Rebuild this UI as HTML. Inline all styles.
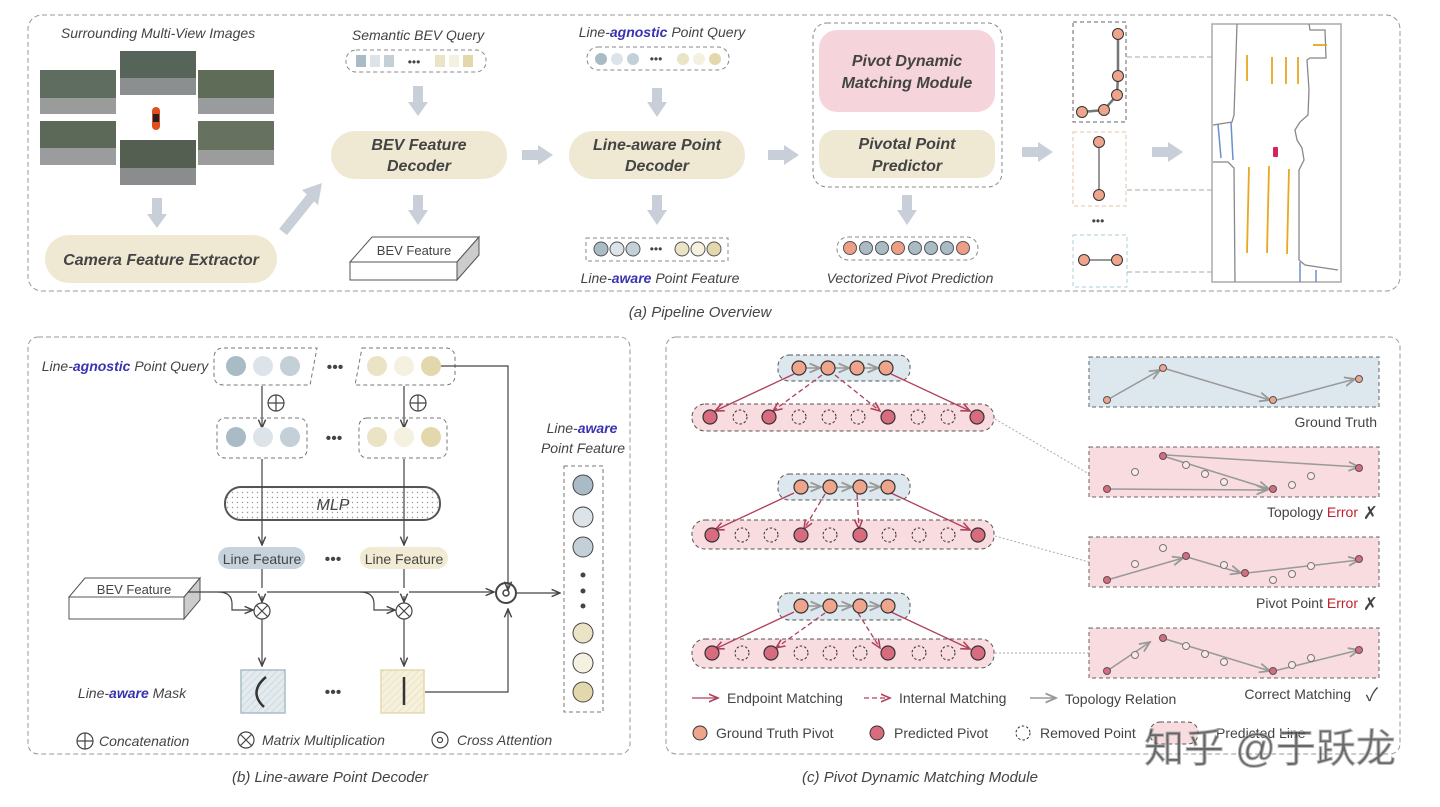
<!DOCTYPE html>
<html><head><meta charset="utf-8"><style>
html,body{margin:0;padding:0;background:#fff;width:1440px;height:807px;overflow:hidden}
svg text{font-family:"Liberation Sans","Noto Sans CJK SC",sans-serif;font-style:italic;fill:#444}
</style></head><body>
<svg width="1440" height="807" viewBox="0 0 1440 807" xmlns="http://www.w3.org/2000/svg">
<defs>
<marker id="ah" markerWidth="8" markerHeight="8" refX="7" refY="4" orient="auto"><path d="M0,1 L7,4 L0,7" fill="none" stroke="#444" stroke-width="1.2"/></marker>
<marker id="ar" markerWidth="8" markerHeight="8" refX="7" refY="4" orient="auto"><path d="M0,1 L7,4 L0,7" fill="none" stroke="#b0405a" stroke-width="1.2"/></marker>
<marker id="ag" markerWidth="8" markerHeight="8" refX="7" refY="4" orient="auto"><path d="M0,1 L7,4 L0,7" fill="none" stroke="#999" stroke-width="1.2"/></marker>
<pattern id="dots" width="5" height="5" patternUnits="userSpaceOnUse"><rect width="5" height="5" fill="#fff"/><circle cx="2.5" cy="2.5" r="0.7" fill="#999"/></pattern>
<pattern id="hatchB" width="5" height="5" patternUnits="userSpaceOnUse" patternTransform="rotate(45)"><rect width="5" height="5" fill="#e4ebef"/><line x1="0" y1="0" x2="0" y2="5" stroke="#c8d3da" stroke-width="1.5"/></pattern>
<pattern id="hatchY" width="5" height="5" patternUnits="userSpaceOnUse" patternTransform="rotate(45)"><rect width="5" height="5" fill="#f6f1dd"/><line x1="0" y1="0" x2="0" y2="5" stroke="#e6dfc2" stroke-width="1.5"/></pattern>
</defs>

<!-- ===== (a) Pipeline ===== -->
<rect x="28" y="15" width="1372" height="276" rx="14" fill="none" stroke="#999" stroke-dasharray="5,3"/>
<text x="158" y="38" font-size="14" text-anchor="middle">Surrounding Multi-View Images</text>
<g>
<rect x="40" y="70" width="76" height="44" fill="#5f6c60"/><rect x="40" y="98" width="76" height="16" fill="#9a9c9c"/>
<rect x="120" y="51" width="76" height="44" fill="#56645a"/><rect x="120" y="78" width="76" height="17" fill="#8c8f90"/>
<rect x="198" y="70" width="76" height="44" fill="#5f6c58"/><rect x="198" y="98" width="76" height="16" fill="#9a9b9c"/>
<rect x="40" y="121" width="76" height="44" fill="#5c6858"/><rect x="40" y="148" width="76" height="17" fill="#9b9c9d"/>
<rect x="120" y="140" width="76" height="45" fill="#545f52"/><rect x="120" y="168" width="76" height="17" fill="#8a8c8d"/>
<rect x="198" y="121" width="76" height="44" fill="#667160"/><rect x="198" y="150" width="76" height="15" fill="#9c9c9c"/>
<rect x="152" y="107" width="8" height="23" rx="4" fill="#e0501c"/><rect x="153" y="114" width="6" height="8" fill="#222"/>
</g>
<path d="M157 198 V216" stroke="#c9cfd8" stroke-width="10"/><path d="M147 214 L167 214 L157 228 Z" fill="#c9cfd8"/>
<rect x="45" y="235" width="232" height="48" rx="24" fill="#efe9d4"/>
<text x="161" y="265" font-size="16" font-weight="bold" text-anchor="middle" fill="#333">Camera Feature Extractor</text>
<path d="M283 232 L312 196" stroke="#c9cfd8" stroke-width="10"/><path d="M302 190 L322 183 L318 205 Z" fill="#c9cfd8"/>

<text x="418" y="40" font-size="14" text-anchor="middle">Semantic BEV Query</text>
<rect x="346" y="50" width="140" height="22" rx="10" fill="none" stroke="#888" stroke-dasharray="4,3"/>
<rect x="356" y="55" width="10" height="12" fill="#a9bcc6"/><rect x="370" y="55" width="10" height="12" fill="#dde4e9"/><rect x="384" y="55" width="10" height="12" fill="#c3d0d8"/>
<text x="414" y="66" font-size="12" text-anchor="middle" style="font-style:normal" fill="#333">•••</text>
<rect x="435" y="55" width="10" height="12" fill="#ebe3c6"/><rect x="449" y="55" width="10" height="12" fill="#f5f1e0"/><rect x="463" y="55" width="10" height="12" fill="#e3d8ac"/>
<path d="M418 86 V104" stroke="#c9cfd8" stroke-width="10"/><path d="M408 102 L428 102 L418 116 Z" fill="#c9cfd8"/>
<rect x="331" y="131" width="176" height="48" rx="24" fill="#efe9d4"/>
<text x="419" y="150" font-size="16" font-weight="bold" text-anchor="middle" fill="#333">BEV Feature</text>
<text x="419" y="171" font-size="16" font-weight="bold" text-anchor="middle" fill="#333">Decoder</text>
<path d="M418 195 V212" stroke="#c9cfd8" stroke-width="10"/><path d="M408 210 L428 210 L418 225 Z" fill="#c9cfd8"/>
<path d="M350 262 L372 237 L479 237 L457 262 Z" fill="#fff" stroke="#555"/><path d="M457 262 L479 237 L479 255 L457 280 Z" fill="#ccc" stroke="#555"/>
<rect x="350" y="262" width="107" height="18" fill="#fff" stroke="#555"/>
<text x="414" y="255" font-size="13" text-anchor="middle" style="font-style:normal">BEV Feature</text>
<path d="M522 155 H540" stroke="#c9cfd8" stroke-width="10"/><path d="M538 145 L553 155 L538 165 Z" fill="#c9cfd8"/>

<text x="662" y="37" font-size="14" text-anchor="middle">Line-<tspan fill="#3a33b0" font-weight="bold">agnostic</tspan> Point Query</text>
<rect x="587" y="47" width="142" height="23" rx="11" fill="none" stroke="#888" stroke-dasharray="4,3"/>
<circle cx="601" cy="59" r="6" fill="#a9bcc6"/><circle cx="617" cy="59" r="6" fill="#dde4e9"/><circle cx="633" cy="59" r="6" fill="#c3d0d8"/>
<text x="656" y="63" font-size="12" text-anchor="middle" style="font-style:normal" fill="#333">•••</text>
<circle cx="683" cy="59" r="6" fill="#ebe3c6"/><circle cx="699" cy="59" r="6" fill="#f5f1e0"/><circle cx="715" cy="59" r="6" fill="#e3d8ac"/>
<path d="M657 88 V104" stroke="#c9cfd8" stroke-width="10"/><path d="M647 102 L667 102 L657 117 Z" fill="#c9cfd8"/>
<rect x="569" y="131" width="176" height="48" rx="24" fill="#efe9d4"/>
<text x="657" y="150" font-size="16" font-weight="bold" text-anchor="middle" fill="#333">Line-aware Point</text>
<text x="657" y="171" font-size="16" font-weight="bold" text-anchor="middle" fill="#333">Decoder</text>
<path d="M657 195 V212" stroke="#c9cfd8" stroke-width="10"/><path d="M647 210 L667 210 L657 225 Z" fill="#c9cfd8"/>
<rect x="586" y="238" width="142" height="23" fill="none" stroke="#888" stroke-dasharray="4,3"/>
<g stroke="#555"><circle cx="601" cy="249" r="7" fill="#a9bcc6"/><circle cx="617" cy="249" r="7" fill="#dde4e9"/><circle cx="633" cy="249" r="7" fill="#c3d0d8"/>
<circle cx="682" cy="249" r="7" fill="#ebe3c6"/><circle cx="698" cy="249" r="7" fill="#f5f1e0"/><circle cx="714" cy="249" r="7" fill="#e3d8ac"/></g>
<text x="656" y="253" font-size="12" text-anchor="middle" style="font-style:normal" fill="#333">•••</text>
<text x="660" y="283" font-size="14" text-anchor="middle">Line-<tspan fill="#3a33b0" font-weight="bold">aware</tspan> Point Feature</text>
<path d="M768 155 H786" stroke="#c9cfd8" stroke-width="10"/><path d="M784 145 L799 155 L784 165 Z" fill="#c9cfd8"/>

<rect x="813" y="23" width="189" height="164" rx="14" fill="none" stroke="#888" stroke-dasharray="4,3"/>
<rect x="819" y="30" width="176" height="82" rx="18" fill="#f5d5db"/>
<text x="907" y="66" font-size="16" font-weight="bold" text-anchor="middle" fill="#333">Pivot Dynamic</text>
<text x="907" y="88" font-size="16" font-weight="bold" text-anchor="middle" fill="#333">Matching Module</text>
<rect x="819" y="130" width="176" height="48" rx="16" fill="#efe9d4"/>
<text x="907" y="149" font-size="16" font-weight="bold" text-anchor="middle" fill="#333">Pivotal Point</text>
<text x="907" y="171" font-size="16" font-weight="bold" text-anchor="middle" fill="#333">Predictor</text>
<path d="M907 195 V212" stroke="#c9cfd8" stroke-width="10"/><path d="M897 210 L917 210 L907 225 Z" fill="#c9cfd8"/>
<rect x="837" y="237" width="141" height="23" rx="11" fill="none" stroke="#888" stroke-dasharray="4,3"/>
<g stroke="#555"><circle cx="850" cy="248" r="6.5" fill="#ef9e86"/><circle cx="866" cy="248" r="6.5" fill="#a9bcc6"/><circle cx="882" cy="248" r="6.5" fill="#a9bcc6"/><circle cx="898" cy="248" r="6.5" fill="#ef9e86"/><circle cx="915" cy="248" r="6.5" fill="#a9bcc6"/><circle cx="931" cy="248" r="6.5" fill="#a9bcc6"/><circle cx="947" cy="248" r="6.5" fill="#a9bcc6"/><circle cx="963" cy="248" r="6.5" fill="#ef9e86"/></g>
<text x="910" y="283" font-size="14" text-anchor="middle">Vectorized Pivot Prediction</text>
<path d="M1022 152 H1040" stroke="#c9cfd8" stroke-width="10"/><path d="M1038 142 L1053 152 L1038 162 Z" fill="#c9cfd8"/>

<rect x="1073" y="22" width="53" height="100" fill="none" stroke="#666" stroke-dasharray="4,3"/>
<polyline points="1118,34 1118,76 1117,95 1104,110 1082,112" fill="none" stroke="#777" stroke-width="2.5"/>
<g stroke="#333" fill="#efa58c"><circle cx="1118" cy="34" r="5.5"/><circle cx="1118" cy="76" r="5.5"/><circle cx="1117" cy="95" r="5.5"/><circle cx="1104" cy="110" r="5.5"/><circle cx="1082" cy="112" r="5.5"/></g>
<rect x="1073" y="132" width="53" height="74" fill="none" stroke="#e6c0a4" stroke-dasharray="4,3"/>
<line x1="1099" y1="142" x2="1099" y2="195" stroke="#777" stroke-width="1.5"/>
<g stroke="#333" fill="#efa58c"><circle cx="1099" cy="142" r="5.5"/><circle cx="1099" cy="195" r="5.5"/></g>
<text x="1098" y="225" font-size="12" text-anchor="middle" style="font-style:normal" fill="#555">•••</text>
<rect x="1073" y="235" width="54" height="52" fill="none" stroke="#a8cfdb" stroke-dasharray="4,3"/>
<line x1="1084" y1="260" x2="1117" y2="260" stroke="#777" stroke-width="1.5"/>
<g stroke="#333" fill="#efa58c"><circle cx="1084" cy="260" r="5.5"/><circle cx="1117" cy="260" r="5.5"/></g>
<g stroke="#aaa" stroke-dasharray="5,3" fill="none" marker-end="url(#ag)"><path d="M1127 57 H1232"/><path d="M1127 190 H1265"/><path d="M1127 272 H1290"/></g>
<path d="M1152 152 H1170" stroke="#c9cfd8" stroke-width="10"/><path d="M1168 142 L1183 152 L1168 162 Z" fill="#c9cfd8"/>
<rect x="1212" y="24" width="129" height="258" fill="#fff" stroke="#aaa" stroke-width="1.5"/>
<g fill="none" stroke="#888" stroke-width="1.3">
<polyline points="1237,24 1234,115 1232,122 1213,125"/>
<polyline points="1213,162 1228,162 1234,168 1235,282"/>
<polyline points="1309,24 1310,30 1325,30 1326,58 1310,58 1307,60 1309,90 1308,115 1300,122 1295,130 1297,140 1302,148 1304,160 1299,170 1299,260 1305,265 1338,270"/>
</g>
<g stroke="#e8a820" stroke-width="1.8"><line x1="1247" y1="55" x2="1247" y2="81"/><line x1="1272" y1="57" x2="1272" y2="84"/><line x1="1286" y1="57" x2="1286" y2="84"/><line x1="1298" y1="57" x2="1298" y2="84"/><line x1="1313" y1="45" x2="1327" y2="45"/>
<line x1="1249" y1="167" x2="1247" y2="253"/><line x1="1269" y1="166" x2="1267" y2="253"/><line x1="1289" y1="169" x2="1287" y2="254"/></g>
<g stroke="#6b8fd0" stroke-width="1.5"><line x1="1218" y1="124" x2="1221" y2="158"/><line x1="1231" y1="122" x2="1233" y2="160"/><line x1="1300" y1="262" x2="1300" y2="282"/><line x1="1316" y1="270" x2="1316" y2="282"/></g>
<rect x="1273" y="147" width="5" height="10" rx="1" fill="#d8245a"/>

<text x="700" y="317" font-size="15" text-anchor="middle" fill="#666">(a) Pipeline Overview</text>

<!-- ===== (b) ===== -->
<rect x="28" y="337" width="602" height="417" rx="10" fill="none" stroke="#999" stroke-dasharray="5,3"/>
<text x="125" y="371" font-size="14" text-anchor="middle">Line-<tspan fill="#3a33b0" font-weight="bold">agnostic</tspan> Point Query</text>
<path d="M224 348 H317 L310 385 H224 Q214 385 214 375 V358 Q214 348 224 348 Z" fill="none" stroke="#777" stroke-dasharray="4,3"/>
<path d="M362 348 H445 Q455 348 455 358 V375 Q455 385 445 385 H355 Z" fill="none" stroke="#777" stroke-dasharray="4,3"/>
<circle cx="236" cy="366" r="10" fill="#a9bcc6"/><circle cx="263" cy="366" r="10" fill="#dde4e9"/><circle cx="290" cy="366" r="10" fill="#c3d0d8"/>
<text x="335" y="372" font-size="16" text-anchor="middle" style="font-style:normal" fill="#333">•••</text>
<circle cx="377" cy="366" r="10" fill="#ebe3c6"/><circle cx="404" cy="366" r="10" fill="#f5f1e0"/><circle cx="431" cy="366" r="10" fill="#e3d8ac"/>
<g stroke="#444" fill="none" stroke-width="1.2">
<path d="M262 386 V428" marker-end="url(#ah)"/><path d="M404 386 V428" marker-end="url(#ah)"/>
<circle cx="276" cy="403" r="8"/><path d="M268 403 H284 M276 395 V411"/>
<circle cx="418" cy="403" r="8"/><path d="M410 403 H426 M418 395 V411"/>
<path d="M441 366 H508 V590" marker-end="url(#ah)"/>
</g>
<rect x="217" y="418" width="90" height="40" rx="8" fill="none" stroke="#777" stroke-dasharray="4,3"/>
<rect x="359" y="418" width="88" height="40" rx="8" fill="none" stroke="#777" stroke-dasharray="4,3"/>
<circle cx="236" cy="437" r="10" fill="#a9bcc6"/><circle cx="263" cy="437" r="10" fill="#dde4e9"/><circle cx="290" cy="437" r="10" fill="#c3d0d8"/>
<text x="334" y="443" font-size="16" text-anchor="middle" style="font-style:normal" fill="#333">•••</text>
<circle cx="377" cy="437" r="10" fill="#ebe3c6"/><circle cx="404" cy="437" r="10" fill="#f5f1e0"/><circle cx="431" cy="437" r="10" fill="#e3d8ac"/>
<rect x="225" y="487" width="215" height="33" rx="16" fill="url(#dots)" stroke="#555" stroke-width="2"/>
<text x="333" y="510" font-size="16" text-anchor="middle">MLP</text>
<g stroke="#444" fill="none" stroke-width="1.2">
<path d="M262 459 V545" marker-end="url(#ah)"/><path d="M404 459 V545" marker-end="url(#ah)"/>
</g>
<rect x="218" y="547" width="87" height="22" rx="11" fill="#c6d3dc"/>
<text x="262" y="564" font-size="14" text-anchor="middle" style="font-style:normal">Line Feature</text>
<text x="333" y="564" font-size="16" text-anchor="middle" style="font-style:normal" fill="#333">•••</text>
<rect x="360" y="547" width="88" height="22" rx="11" fill="#f1ebd3"/>
<text x="404" y="564" font-size="14" text-anchor="middle" style="font-style:normal">Line Feature</text>
<path d="M69 597 L85 578 L200 578 L184 597 Z" fill="#fff" stroke="#555"/><path d="M184 597 L200 578 L200 600 L184 619 Z" fill="#ccc" stroke="#555"/>
<rect x="69" y="597" width="115" height="22" fill="#fff" stroke="#555"/>
<text x="134" y="594" font-size="13" text-anchor="middle" style="font-style:normal">BEV Feature</text>
<g stroke="#444" fill="none" stroke-width="1.2">
<path d="M188 592 H257 M267 592 H399 M409 592 H494" marker-end="url(#ah)"/>
<path d="M218 592 Q232 592 232 604 V610 H253" marker-end="url(#ah)"/>
<path d="M360 592 Q374 592 374 604 V610 H395" marker-end="url(#ah)"/>
<path d="M262 569 V588 M262 596 V602" marker-end="url(#ah)"/>
<path d="M404 569 V588 M404 596 V602" marker-end="url(#ah)"/>
<circle cx="262" cy="611" r="8"/><path d="M256 605 L268 617 M268 605 L256 617"/>
<circle cx="404" cy="611" r="8"/><path d="M398 605 L410 617 M410 605 L398 617"/>
<path d="M262 619 V666" marker-end="url(#ah)"/><path d="M404 619 V666" marker-end="url(#ah)"/>
<path d="M425 692 H508 V609" marker-end="url(#ah)"/>
<circle cx="506" cy="593" r="10" stroke-width="2"/><circle cx="506" cy="593" r="3" stroke-width="1.5"/>
<path d="M517 593 H560" marker-end="url(#ah)"/>
</g>
<rect x="241" y="670" width="44" height="43" fill="url(#hatchB)" stroke="#a9bcc6" stroke-width="1.5"/>
<path d="M266 677 Q248 692 264 707" fill="none" stroke="#333" stroke-width="2.5"/>
<text x="333" y="697" font-size="16" text-anchor="middle" style="font-style:normal" fill="#333">•••</text>
<rect x="381" y="670" width="43" height="43" fill="url(#hatchY)" stroke="#e3d8ac" stroke-width="1.5"/>
<line x1="404" y1="677" x2="404" y2="705" stroke="#333" stroke-width="2.5"/>
<text x="132" y="698" font-size="14" text-anchor="middle">Line-<tspan fill="#3a33b0" font-weight="bold">aware</tspan> Mask</text>
<text x="582" y="433" font-size="14" text-anchor="middle">Line-<tspan fill="#3a33b0" font-weight="bold">aware</tspan></text>
<text x="583" y="453" font-size="14" text-anchor="middle">Point Feature</text>
<rect x="564" y="466" width="39" height="246" fill="none" stroke="#777" stroke-dasharray="4,3"/>
<g stroke="#444"><circle cx="583" cy="485" r="10" fill="#a9bcc6"/><circle cx="583" cy="517" r="10" fill="#dde4e9"/><circle cx="583" cy="547" r="10" fill="#c3d0d8"/>
<circle cx="583" cy="633" r="10" fill="#ebe3c6"/><circle cx="583" cy="663" r="10" fill="#f5f1e0"/><circle cx="583" cy="692" r="10" fill="#e3d8ac"/></g>
<g fill="#444"><circle cx="583" cy="575" r="2.5"/><circle cx="583" cy="591" r="2.5"/><circle cx="583" cy="606" r="2.5"/></g>
<g stroke="#444" fill="none" stroke-width="1.2">
<circle cx="85" cy="741" r="8"/><path d="M77 741 H93 M85 733 V749"/>
<circle cx="246" cy="740" r="8"/><path d="M240 734 L252 746 M252 734 L240 746"/>
<circle cx="440" cy="740" r="8"/><circle cx="440" cy="740" r="2.5"/>
</g>
<text x="99" y="746" font-size="14">Concatenation</text>
<text x="262" y="745" font-size="14">Matrix Multiplication</text>
<text x="457" y="745" font-size="14">Cross Attention</text>
<text x="330" y="782" font-size="15" text-anchor="middle" fill="#666">(b) Line-aware Point Decoder</text>

<!-- ===== (c) ===== -->
<rect x="666" y="337" width="734" height="417" rx="10" fill="none" stroke="#999" stroke-dasharray="5,3"/>
<rect x="778" y="355" width="132" height="26" rx="11" fill="#dde7ee" stroke="#555" stroke-dasharray="4,3"/>
<rect x="692" y="404" width="302" height="27" rx="13" fill="#f8dce0" stroke="#555" stroke-dasharray="4,3"/>
<rect x="778" y="474" width="132" height="26" rx="11" fill="#dde7ee" stroke="#555" stroke-dasharray="4,3"/>
<rect x="692" y="520" width="302" height="29" rx="13" fill="#f8dce0" stroke="#555" stroke-dasharray="4,3"/>
<rect x="778" y="593" width="132" height="27" rx="11" fill="#dde7ee" stroke="#555" stroke-dasharray="4,3"/>
<rect x="692" y="639" width="302" height="29" rx="13" fill="#f8dce0" stroke="#555" stroke-dasharray="4,3"/>
<g stroke="#999" stroke-width="1.5" marker-end="url(#ag)"><path d="M806 368 H820"/><path d="M835 368 H849"/><path d="M864 368 H878"/><path d="M808 487 H821"/><path d="M837 487 H852"/><path d="M868 487 H880"/><path d="M808 606 H821"/><path d="M837 606 H852"/><path d="M868 606 H880"/></g>
<g stroke="#b0405a" stroke-width="1.3" fill="none" marker-end="url(#ar)">
<path d="M794 374 L715 411"/><path d="M891 374 L970 411"/>
<path d="M794 493 L715 530"/><path d="M891 493 L970 530"/>
<path d="M794 612 L715 649"/><path d="M891 612 L970 649"/>
</g>
<g stroke="#b0405a" stroke-width="1.3" fill="none" stroke-dasharray="5,3" marker-end="url(#ar)">
<path d="M822 375 L773 411"/><path d="M835 375 L880 411"/>
<path d="M825 494 L804 529"/><path d="M857 494 L859 529"/>
<path d="M825 613 L776 648"/><path d="M858 613 L880 648"/>
</g>
<g stroke="#333" stroke-width="1.2" fill="#efa58c">
<circle cx="799" cy="368" r="7"/><circle cx="828" cy="368" r="7"/><circle cx="857" cy="368" r="7"/><circle cx="886" cy="368" r="7"/>
<circle cx="801" cy="487" r="7"/><circle cx="830" cy="487" r="7"/><circle cx="860" cy="487" r="7"/><circle cx="888" cy="487" r="7"/>
<circle cx="801" cy="606" r="7"/><circle cx="830" cy="606" r="7"/><circle cx="860" cy="606" r="7"/><circle cx="888" cy="606" r="7"/>
</g>
<g stroke="#333" stroke-width="1.2" fill="#d96b7f">
<circle cx="710" cy="417" r="7"/><circle cx="769" cy="417" r="7"/><circle cx="888" cy="417" r="7"/><circle cx="977" cy="417" r="7"/>
<circle cx="712" cy="535" r="7"/><circle cx="801" cy="535" r="7"/><circle cx="860" cy="535" r="7"/><circle cx="978" cy="535" r="7"/>
<circle cx="712" cy="653" r="7"/><circle cx="771" cy="653" r="7"/><circle cx="888" cy="653" r="7"/><circle cx="978" cy="653" r="7"/>
</g>
<g stroke="#333" stroke-width="1" fill="none" stroke-dasharray="2.5,2">
<circle cx="740" cy="417" r="7"/><circle cx="799" cy="417" r="7"/><circle cx="829" cy="417" r="7"/><circle cx="858" cy="417" r="7"/><circle cx="918" cy="417" r="7"/><circle cx="948" cy="417" r="7"/>
<circle cx="742" cy="535" r="7"/><circle cx="771" cy="535" r="7"/><circle cx="830" cy="535" r="7"/><circle cx="889" cy="535" r="7"/><circle cx="919" cy="535" r="7"/><circle cx="948" cy="535" r="7"/>
<circle cx="742" cy="653" r="7"/><circle cx="801" cy="653" r="7"/><circle cx="830" cy="653" r="7"/><circle cx="860" cy="653" r="7"/><circle cx="919" cy="653" r="7"/><circle cx="948" cy="653" r="7"/>
</g>
<g stroke="#aaa" stroke-dasharray="2,2"><line x1="995" y1="419" x2="1089" y2="474"/><line x1="995" y1="536" x2="1089" y2="562"/><line x1="995" y1="653" x2="1089" y2="653"/></g>
<rect x="1089" y="357" width="290" height="50" fill="#dde7ee" stroke="#666" stroke-dasharray="4,3"/>
<rect x="1089" y="447" width="290" height="50" fill="#f8dce0" stroke="#666" stroke-dasharray="4,3"/>
<rect x="1089" y="537" width="290" height="50" fill="#f8dce0" stroke="#666" stroke-dasharray="4,3"/>
<rect x="1089" y="628" width="290" height="50" fill="#f8dce0" stroke="#666" stroke-dasharray="4,3"/>
<g stroke="#999" stroke-width="1.5" fill="none" marker-end="url(#ag)">
<path d="M1107 400 L1160 370"/><path d="M1163 368 L1270 400"/><path d="M1277 400 L1355 379"/>
<path d="M1166 455 L1359 467"/><path d="M1163 456 L1269 489"/><path d="M1107 489 L1267 490"/>
<path d="M1107 580 L1183 558"/><path d="M1187 557 L1241 573"/><path d="M1247 573 L1359 560"/>
<path d="M1107 671 L1150 642"/><path d="M1162 638 L1270 671"/><path d="M1274 671 L1359 650"/>
</g>
<g stroke="#555" fill="#efa58c"><circle cx="1107" cy="400" r="3.5"/><circle cx="1163" cy="368" r="3.5"/><circle cx="1273" cy="400" r="3.5"/><circle cx="1359" cy="379" r="3.5"/></g>
<g stroke="#555" fill="#d96b7f">
<circle cx="1107" cy="489" r="3.5"/><circle cx="1163" cy="456" r="3.5"/><circle cx="1273" cy="489" r="3.5"/><circle cx="1359" cy="468" r="3.5"/>
<circle cx="1107" cy="580" r="3.5"/><circle cx="1186" cy="556" r="3.5"/><circle cx="1245" cy="573" r="3.5"/><circle cx="1359" cy="559" r="3.5"/>
<circle cx="1107" cy="671" r="3.5"/><circle cx="1163" cy="638" r="3.5"/><circle cx="1273" cy="671" r="3.5"/><circle cx="1359" cy="650" r="3.5"/></g>
<g stroke="#777" fill="#fbe8ea">
<circle cx="1135" cy="472" r="3.5"/><circle cx="1186" cy="465" r="3.5"/><circle cx="1205" cy="474" r="3.5"/><circle cx="1224" cy="482" r="3.5"/><circle cx="1292" cy="485" r="3.5"/><circle cx="1311" cy="476" r="3.5"/>
<circle cx="1135" cy="564" r="3.5"/><circle cx="1163" cy="548" r="3.5"/><circle cx="1224" cy="565" r="3.5"/><circle cx="1273" cy="580" r="3.5"/><circle cx="1292" cy="574" r="3.5"/><circle cx="1311" cy="566" r="3.5"/>
<circle cx="1135" cy="655" r="3.5"/><circle cx="1186" cy="646" r="3.5"/><circle cx="1205" cy="654" r="3.5"/><circle cx="1224" cy="662" r="3.5"/><circle cx="1292" cy="665" r="3.5"/><circle cx="1311" cy="658" r="3.5"/></g>
<text x="1377" y="427" font-size="14" text-anchor="end" style="font-style:normal">Ground Truth</text>
<text x="1358" y="517" font-size="14" text-anchor="end" style="font-style:normal">Topology <tspan fill="#c0202a">Error</tspan></text>
<text x="1378" y="519" font-size="18" text-anchor="end" fill="#c0202a" style="font-style:normal">✗</text>
<text x="1358" y="608" font-size="14" text-anchor="end" style="font-style:normal">Pivot Point <tspan fill="#c0202a">Error</tspan></text>
<text x="1378" y="610" font-size="18" text-anchor="end" fill="#c0202a" style="font-style:normal">✗</text>
<text x="1351" y="699" font-size="14" text-anchor="end" style="font-style:normal">Correct Matching</text>
<text x="1378" y="701" font-size="18" text-anchor="end" fill="#333" style="font-style:normal">✓</text>
<path d="M692 698 H718" stroke="#b0405a" stroke-width="1.3" marker-end="url(#ar)"/>
<text x="727" y="703" font-size="14" style="font-style:normal">Endpoint Matching</text>
<path d="M864 698 H890" stroke="#b0405a" stroke-width="1.3" stroke-dasharray="5,3" marker-end="url(#ar)"/>
<text x="899" y="703" font-size="14" style="font-style:normal">Internal Matching</text>
<path d="M1030 698 H1056" stroke="#999" stroke-width="1.5" marker-end="url(#ag)"/>
<text x="1065" y="704" font-size="14" style="font-style:normal">Topology Relation</text>
<circle cx="700" cy="733" r="7" fill="#efa58c" stroke="#333"/>
<text x="716" y="738" font-size="14" style="font-style:normal">Ground Truth Pivot</text>
<circle cx="877" cy="733" r="7" fill="#d96b7f" stroke="#333"/>
<text x="894" y="738" font-size="14" style="font-style:normal">Predicted Pivot</text>
<circle cx="1023" cy="733" r="7" fill="none" stroke="#333" stroke-dasharray="2.5,2"/>
<text x="1040" y="738" font-size="14" style="font-style:normal">Removed Point</text>
<rect x="1150" y="722" width="48" height="22" rx="10" fill="#f8dce0" stroke="#555" stroke-dasharray="4,3"/>
<text x="1216" y="738" font-size="14" style="font-style:normal">Predicted Line</text>
<text x="1270" y="762" font-size="40" text-anchor="middle" fill="#eee" opacity="0.8" stroke="#aaa" stroke-width="1" style="font-style:normal">知乎 @于跃龙</text>
<text x="920" y="782" font-size="15" text-anchor="middle" fill="#666">(c) Pivot Dynamic Matching Module</text>
</svg>
</body></html>
